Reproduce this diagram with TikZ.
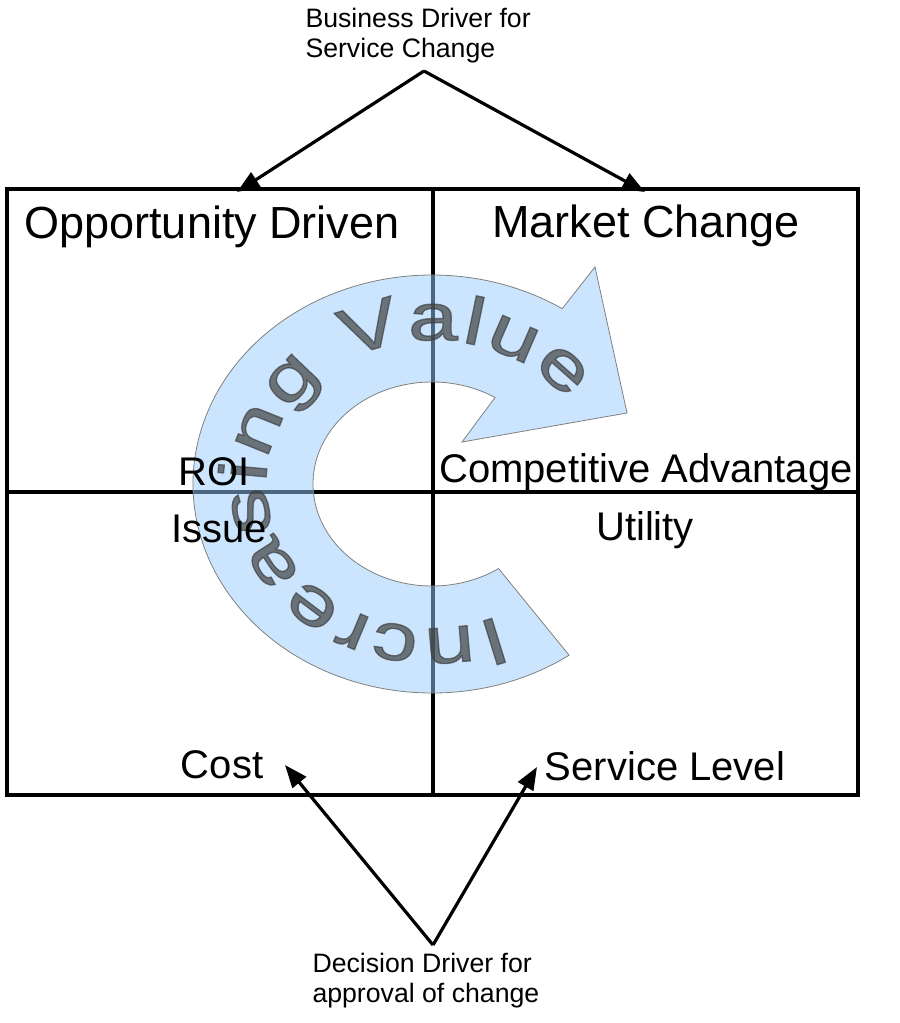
\documentclass[tikz,border=0pt]{standalone}
\usepackage{fontspec}
\setmainfont{Liberation Sans}
\newfontfamily\arcfont[FakeStretch=1.35,FakeBold=2]{Liberation Sans}
\usetikzlibrary{arrows.meta,decorations.text}

\tikzset{every picture/.style={line width=0.75pt}}
\tikzset{
  frameline/.style={line width=3pt},
  conn/.style={line width=2.4pt, -{Triangle[length=17pt,width=13pt]}},
  bigtext/.style={anchor=base, inner sep=0pt, font=\fontsize{33.75}{40}\selectfont},
  celltext/.style={anchor=base, inner sep=0pt, font=\fontsize{30}{36}\selectfont},
  drvtext/.style={anchor=north west, inner sep=0pt, align=left, font=\fontsize{20}{22.5}\selectfont},
  cyclearrow/.style={draw={rgb, 255:red, 128; green, 128; blue, 128 }, line width=0.6pt,
    fill={rgb, 255:red, 153; green, 204; blue, 255 }, fill opacity=0.5},
}

\begin{document}
\begin{tikzpicture}[x=0.75pt,y=0.75pt,yscale=-1,xscale=1]
\useasboundingbox (0,0) rectangle (899,1023);

%Shape: Rectangle and cross lines
\draw [frameline] (7,189) rectangle (858,795);
\draw [frameline] (433,189) -- (433,795);
\draw [frameline] (7,492) -- (858,492);

%Shape: Circular Arrow
\path [cyclearrow] ([shift={(55:239 and 209)}]432,484) arc [start angle=55, end angle=303, x radius=239, y radius=209]
  -- (595,267) -- (627,413) -- (462,442)
  -- ([shift={(302:119 and 102)}]432,484) arc [start angle=302, end angle=56, x radius=119, y radius=102] -- cycle;

% Text on arc
\begin{scope}[opacity=0.7]
\path [decorate, decoration={text along path, text align=fit to path,
    text={|\arcfont\fontsize{50}{50}\selectfont\color[RGB]{64,64,64}|Increasing Value}}]
  ([shift={(66:166 and 144)}]432,484) arc [start angle=66, end angle=325, x radius=166, y radius=144];
\end{scope}

% Text Node
\node (opp) at (212,239) [bigtext] {Opportunity Driven};
% Text Node
\node (mkt) at (646,238) [bigtext] {Market Change};
% Text Node
\node (roi) at (214,485) [celltext] {ROI};
% Text Node
\node (comp) at (646,482) [celltext] {Competitive Advantage};
% Text Node
\node (issue) at (219,542) [celltext] {Issue};
% Text Node
\node (util) at (645,540) [celltext] {Utility};
% Text Node
\node (cost) at (222,778) [celltext] {Cost};
% Text Node
\node (svc) at (665,780) [celltext] {Service Level};

% Text Node
\node (bizdrv) at (305,7.5) [drvtext] {Business Driver for\\Service Change};
% Text Node
\node (decdrv) at (312,953) [drvtext] {Decision Driver for\\approval of change};

\coordinate (bizapex) at (424,71);
\coordinate (opptip) at (237,192);
\coordinate (mkttip) at (645,192);
\coordinate (decapex) at (433,945);
\coordinate (costtip) at (285,765);
\coordinate (svctip) at (537,767);

%Straight Lines
\draw [conn] (bizapex) -- (opptip);
%Straight Lines
\draw [conn] (bizapex) -- (mkttip);
%Straight Lines
\draw [conn] (decapex) -- (costtip);
%Straight Lines
\draw [conn] (decapex) -- (svctip);

\end{tikzpicture}
\end{document}
